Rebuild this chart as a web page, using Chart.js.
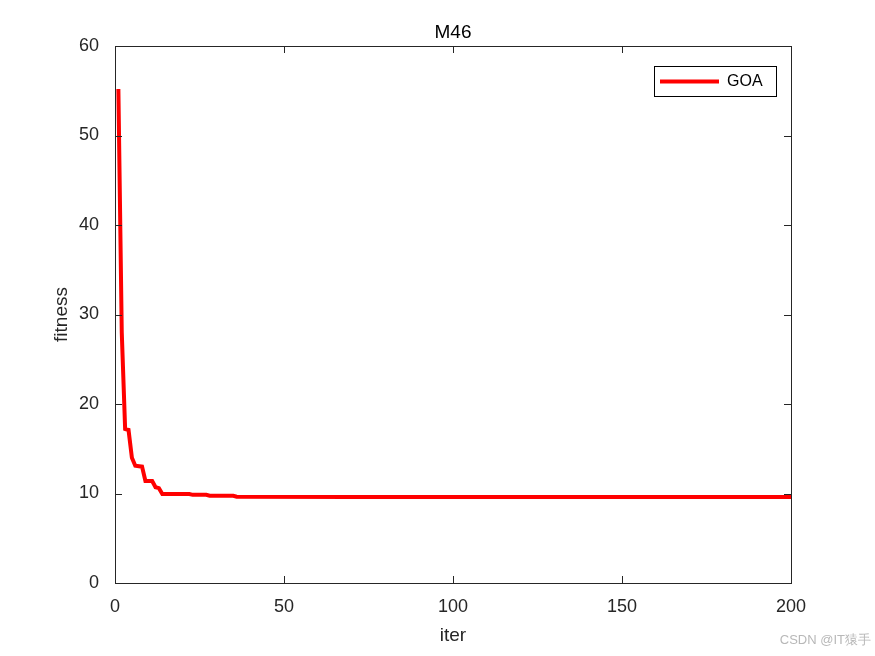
<!DOCTYPE html>
<html><head><meta charset="utf-8">
<script src="https://cdn.jsdelivr.net/npm/chart.js@4"></script>
<style>body{margin:0;background:#fff}canvas{display:block}</style>
</head><body>
<canvas id="c" width="875" height="656"></canvas>
<script>
// breakpoints of the convergence curve (iter, best fitness)
var iters   = [1, 2, 3, 4, 5, 6, 8, 9, 11, 12, 13, 14, 22, 23, 27, 28, 35, 36, 70, 200];
var fitness = [55.2, 28, 17.2, 17.1, 14, 13.1, 13, 11.4, 11.4, 10.7, 10.6, 9.95, 9.95, 9.85, 9.85, 9.75, 9.75, 9.65, 9.62, 9.6];
var xTicks = [0, 50, 100, 150, 200];
var yTicks = [0, 10, 20, 30, 40, 50, 60];

var pts = iters.map(function(x, i){ return {x: x, y: fitness[i]}; });
var font = "Liberation Sans, Arial, sans-serif";

var frame = {
  id: "frame",
  afterDraw: function(chart){
    var c = chart.ctx, a = chart.chartArea, xs = chart.scales.x, ys = chart.scales.y;
    c.save();
    c.strokeStyle = "#262626"; c.lineWidth = 1;
    c.strokeRect(a.left + 0.5, a.top + 0.5, a.right - a.left, a.bottom - a.top);
    c.beginPath();
    xTicks.forEach(function(v){
      var p = Math.round(xs.getPixelForValue(v)) + 0.5;
      c.moveTo(p, a.bottom); c.lineTo(p, a.bottom - 7);
      c.moveTo(p, a.top); c.lineTo(p, a.top + 7);
    });
    yTicks.forEach(function(v){
      var p = Math.round(ys.getPixelForValue(v)) + 0.5;
      c.moveTo(a.left, p); c.lineTo(a.left + 7, p);
      c.moveTo(a.right, p); c.lineTo(a.right - 7, p);
    });
    c.stroke();
    // title
    c.fillStyle = "#000"; c.font = "19px " + font; c.textAlign = "center"; c.textBaseline = "middle";
    c.fillText("M46", (a.left + a.right) / 2, 33);
    // axis titles
    c.fillStyle = "#262626";
    c.fillText("iter", (a.left + a.right) / 2, 636);
    c.save(); c.translate(62, (a.top + a.bottom) / 2); c.rotate(-Math.PI / 2);
    c.fillText("fitness", 0, 0); c.restore();
    // legend
    c.fillStyle = "#fff"; c.fillRect(654, 66, 122, 30);
    c.strokeStyle = "#000"; c.lineWidth = 1; c.strokeRect(654.5, 66.5, 122, 30);
    c.strokeStyle = "#f00"; c.lineWidth = 4;
    c.beginPath(); c.moveTo(660, 81.5); c.lineTo(719, 81.5); c.stroke();
    c.fillStyle = "#000"; c.font = "16px " + font; c.textAlign = "left";
    c.fillText("GOA", 727, 82);
    // watermark
    c.fillStyle = "#b8b8b8"; c.font = "13px " + font; c.textAlign = "right";
    c.fillText("CSDN @IT猿手", 871, 640);
    c.restore();
  }
};

new Chart(document.getElementById("c"), {
  type: "line",
  data: { datasets: [{ label: "GOA", data: pts, borderColor: "#f00", borderWidth: 4, pointRadius: 0, fill: false, tension: 0 }] },
  options: {
    responsive: false, animation: false, devicePixelRatio: 1,
    layout: { padding: { left: 0, right: 84, top: 46, bottom: 0 } },
    plugins: { legend: { display: false }, title: { display: false }, tooltip: { enabled: false } },
    scales: {
      x: {
        type: "linear", min: 0, max: 200,
        afterFit: function(s){ s.height = 73; },
        afterBuildTicks: function(s){ s.ticks = xTicks.map(function(v){ return {value: v}; }); },
        grid: { display: false }, border: { display: false },
        ticks: { color: "#262626", font: { size: 18, family: font }, padding: 5 }
      },
      y: {
        min: 0, max: 60,
        afterFit: function(s){ s.width = 115; },
        afterBuildTicks: function(s){ s.ticks = yTicks.map(function(v){ return {value: v}; }); },
        grid: { display: false }, border: { display: false },
        ticks: { color: "#262626", font: { size: 18, family: font }, padding: 8 }
      }
    }
  },
  plugins: [frame]
});
</script>
</body></html>
